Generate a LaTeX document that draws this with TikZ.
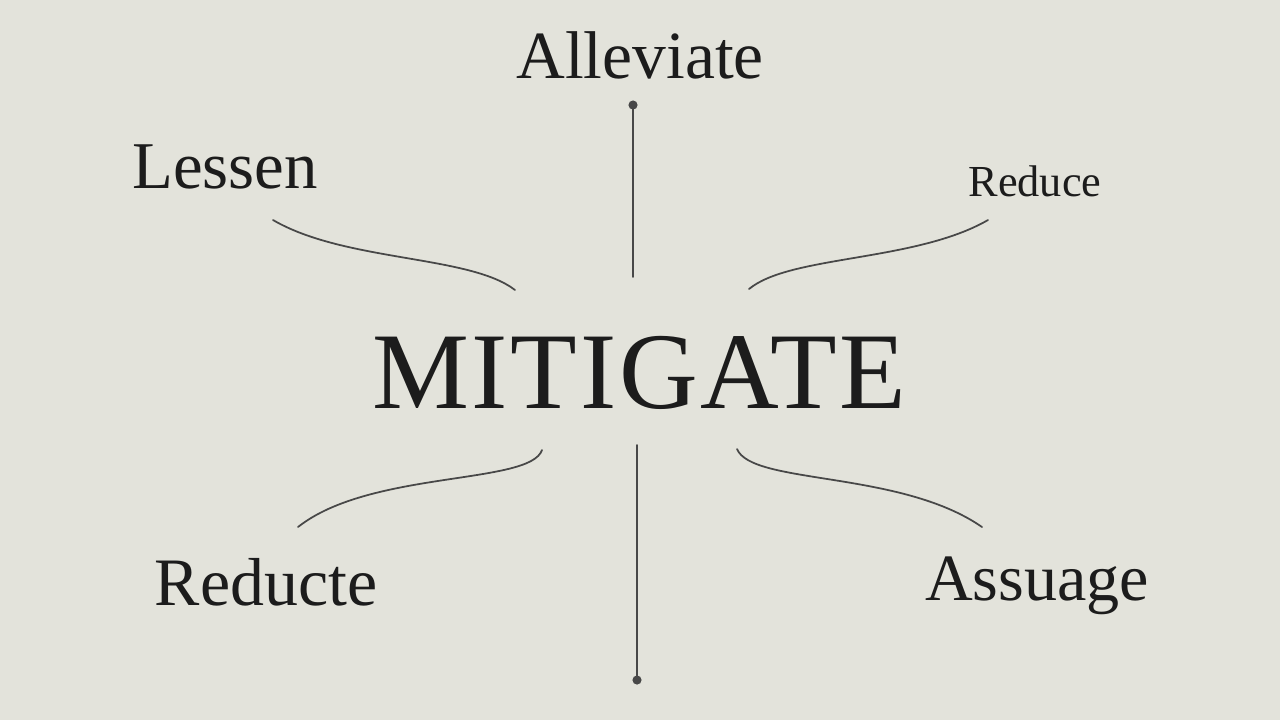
\documentclass[tikz,border=0pt]{standalone}
\usepackage{fontspec}
\setmainfont{Liberation Serif}
\usetikzlibrary{positioning, calc}
\definecolor{paperbg}{RGB}{227, 227, 219}
\definecolor{inkcolor}{RGB}{28, 28, 28}
\definecolor{linecolor}{RGB}{72, 72, 72}

\begin{document}
\begin{tikzpicture}[x=0.01cm, y=-0.01cm,
  word/.style={anchor=base, inner sep=0pt, text=inkcolor},
  link/.style={draw=linecolor, line width=0.5pt, line cap=round}]
\fill[paperbg] (0,0) rectangle (1280,720);
\useasboundingbox (0,0) rectangle (1280,720);

% Centre word
\node[word, font=\fontsize{31}{34}\selectfont\addfontfeature{LetterSpace=2.5}] (mitigate) at (639,408) {MITIGATE};

% Synonyms
\node[word, font=\fontsize{19.2}{22}\selectfont] (alleviate) at (640,78) {Alleviate};
\node[word, font=\fontsize{19}{22}\selectfont] (lessen) at (225,188) {Lessen};
\node[word, font=\fontsize{12.6}{15}\selectfont] (reduce) at (1035,196) {Reduce};
\node[word, font=\fontsize{19.3}{22}\selectfont] (reducte) at (266,605) {Reducte};
\node[word, font=\fontsize{18.8}{21}\selectfont] (assuage) at (1037,600) {Assuage};

% Line ends
\coordinate (alleviate-end) at (633,105);
\coordinate (top-end) at (633,277);
\coordinate (lessen-end) at (273,220);
\coordinate (ul-end) at (515,290);
\coordinate (reduce-end) at (988,220);
\coordinate (ur-end) at (749,289);
\coordinate (reducte-end) at (298,527);
\coordinate (ll-end) at (542,450);
\coordinate (assuage-end) at (982,527);
\coordinate (lr-end) at (737,449);
\coordinate (bottom-end) at (637,680);
\coordinate (low-end) at (637,445);

% Connectors
\draw[link] (alleviate-end) -- (top-end);
\fill[linecolor] (alleviate-end) circle (1.3pt);
\draw[link] (low-end) -- (bottom-end);
\fill[linecolor] (bottom-end) circle (1.3pt);
\draw[link] (lessen-end) .. controls (345,262) and (470,255) .. (ul-end);
\draw[link] (reduce-end) .. controls (915,262) and (790,255) .. (ur-end);
\draw[link] (ll-end) .. controls (530,485) and (370,470) .. (reducte-end);
\draw[link] (lr-end) .. controls (752,485) and (900,470) .. (assuage-end);
\end{tikzpicture}
\end{document}
